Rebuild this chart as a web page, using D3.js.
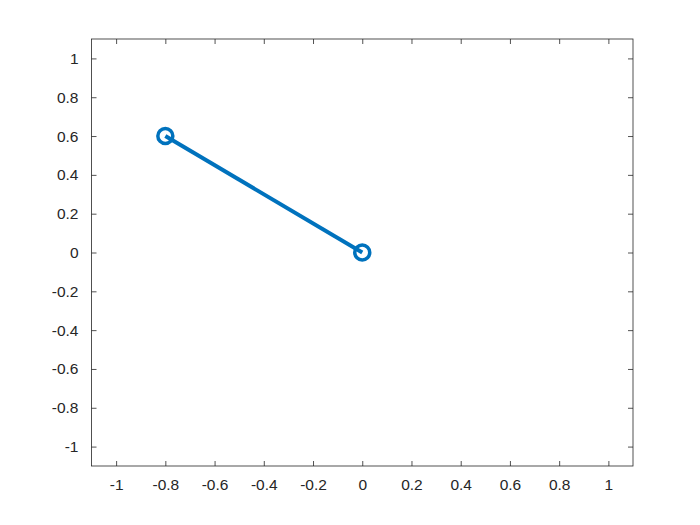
<!DOCTYPE html>
<html>
<head>
<meta charset="utf-8">
<script src="https://cdn.jsdelivr.net/npm/d3@7"></script>
<style>
  body { margin: 0; background: #fff; }
  svg text { font-family: "Liberation Sans", Arial, sans-serif; font-size: 15.5px; fill: #262626; }
</style>
</head>
<body>
<svg width="700" height="525"></svg>
<script>
const xs = [-0.8, 0];
const ys = [0.6, 0];
const xTicks = [-1, -0.8, -0.6, -0.4, -0.2, 0, 0.2, 0.4, 0.6, 0.8, 1];
const yTicks = [-1, -0.8, -0.6, -0.4, -0.2, 0, 0.2, 0.4, 0.6, 0.8, 1];

const svg = d3.select("svg");
const mLeft = 91.5, mRight = 633, mTop = 39, mBottom = 466;

const x = d3.scaleLinear().domain([-1.1, 1.1]).range([mLeft, mRight]);
const y = d3.scaleLinear().domain([-1.1, 1.1]).range([mBottom, mTop]);

const fmt = d => d === 0 ? "0" : String(+d.toFixed(1));
const axisCol = "#262626";

function styleAxis(g, hideText) {
  g.select(".domain").remove();
  g.selectAll("line").attr("stroke", axisCol).attr("stroke-width", 0.8);
  if (hideText) g.selectAll("text").remove();
}

svg.append("g").attr("transform", `translate(0,${mBottom})`)
  .call(d3.axisBottom(x).tickValues(xTicks).tickFormat(fmt).tickSizeInner(-5).tickSizeOuter(0).tickPadding(13))
  .call(g => styleAxis(g, false));
svg.append("g").attr("transform", `translate(0,${mTop})`)
  .call(d3.axisTop(x).tickValues(xTicks).tickSizeInner(-5).tickSizeOuter(0))
  .call(g => styleAxis(g, true));
svg.append("g").attr("transform", `translate(${mLeft},0)`)
  .call(d3.axisLeft(y).tickValues(yTicks).tickFormat(fmt).tickSizeInner(-5).tickSizeOuter(0).tickPadding(13))
  .call(g => styleAxis(g, false));
svg.append("g").attr("transform", `translate(${mRight},0)`)
  .call(d3.axisRight(y).tickValues(yTicks).tickSizeInner(-5).tickSizeOuter(0))
  .call(g => styleAxis(g, true));

svg.append("rect")
  .attr("x", mLeft).attr("y", mTop)
  .attr("width", mRight - mLeft).attr("height", mBottom - mTop)
  .attr("fill", "none").attr("stroke", axisCol).attr("stroke-width", 0.8);

const pts = xs.map((v, i) => [v, ys[i]]);
const line = d3.line().x(d => x(d[0])).y(d => y(d[1]));

svg.append("path").datum(pts)
  .attr("d", line)
  .attr("fill", "none")
  .attr("stroke", "#0072BD")
  .attr("stroke-width", 4);

svg.selectAll("circle.m").data(pts).enter().append("circle")
  .attr("class", "m")
  .attr("cx", d => x(d[0])).attr("cy", d => y(d[1]))
  .attr("r", 7.5)
  .attr("fill", "none")
  .attr("stroke", "#0072BD")
  .attr("stroke-width", 3.5);
</script>
</body>
</html>
